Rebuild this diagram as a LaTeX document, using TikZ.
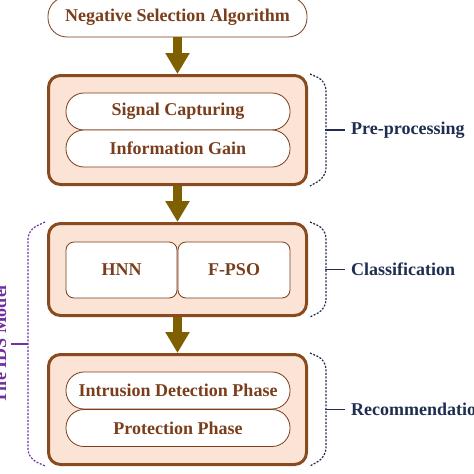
\documentclass[tikz,border=0pt]{standalone}
\usepackage{fontspec}
\setmainfont{Liberation Serif}
\usetikzlibrary{arrows.meta,positioning}

\definecolor{textBrown}{RGB}{122,62,28}
\definecolor{boxBrown}{RGB}{138,74,32}
\definecolor{boxFill}{RGB}{251,228,213}
\definecolor{arrowOlive}{RGB}{127,96,0}
\definecolor{labelNavy}{RGB}{31,45,80}
\definecolor{modelPurple}{RGB}{112,48,160}

\tikzset{
  bigFont/.style={font=\fontsize{18}{20}\selectfont\bfseries},
  outerBox/.style={rectangle,rounded corners=12pt,draw=boxBrown,line width=3pt,fill=boxFill,minimum width=258pt},
  pill/.style={rectangle,rounded corners=18pt,draw=textBrown,line width=0.8pt,fill=white,minimum width=224pt,minimum height=37pt,bigFont,text=textBrown},
  halfBox/.style={rectangle,rounded corners=8pt,draw=textBrown,line width=0.8pt,fill=white,minimum width=112pt,minimum height=56pt,bigFont,text=textBrown},
  bigArrow/.style={draw=arrowOlive,fill=arrowOlive,line width=9pt,-{Triangle[width=23pt,length=21pt]}},
  navyBrace/.style={draw=labelNavy,line width=1.2pt,dashed,dash pattern=on 2pt off 1.5pt,rounded corners=9pt},
  sideLabel/.style={bigFont,text=labelNavy,inner sep=1pt,anchor=west}
}

\begin{document}
\begin{tikzpicture}[x=1pt,y=-1pt]
        \useasboundingbox (0,0) rectangle (474,474);
        \clip (0,0) rectangle (474,474);

        % main column
        \draw (177.5,17) node (negativeSelection) [pill,minimum width=259pt,minimum height=40pt,rounded corners=19pt] {Negative Selection Algorithm};
        \draw (177.5,130) node (preProcessing) [outerBox,minimum height=109pt] {};
        \draw (177.5,269.5) node (classification) [outerBox,minimum height=92pt] {};
        \draw (177.5,409.5) node (recommendation) [outerBox,minimum height=110pt] {};

        \draw (178,111.5) node (signalCapturing) [pill] {Signal Capturing};
        \draw (178,148.5) node (informationGain) [pill] {Information Gain};
        \draw (121.5,270) node (hnn) [halfBox,minimum width=111pt] {HNN};
        \draw (234,270) node (fpso) [halfBox] {F-PSO};
        \draw (178,390.5) node (intrusionDetection) [pill] {Intrusion Detection Phase};
        \draw (178,428) node (protection) [pill] {Protection Phase};

        \draw [bigArrow] (negativeSelection.south) to (preProcessing.north);
        \draw [bigArrow] (preProcessing.south) to (classification.north);
        \draw [bigArrow] (classification.south) to (recommendation.north);

        % right braces
        \draw (preProcessing.east) node (preLabel) [sideLabel,right=42pt of preProcessing.east] {Pre-processing};
        \draw (classification.east) node (classLabel) [sideLabel,right=42pt of classification.east] {Classification};
        \draw (recommendation.east) node (recLabel) [sideLabel,right=42pt of recommendation.east] {Recommendation};

        \draw [navyBrace] ([xshift=2pt]preProcessing.north east) -- ++(16,7) -- ++(0,96) -- ([xshift=2pt]preProcessing.south east);
        \draw [navyBrace] ([xshift=2pt]classification.north east) -- ++(16,7) -- ++(0,80) -- ([xshift=2pt]classification.south east);
        \draw [navyBrace] ([xshift=2pt]recommendation.north east) -- ++(16,7) -- ++(0,97) -- ([xshift=2pt]recommendation.south east);
        \draw [draw=labelNavy,line width=1.2pt] ([xshift=17pt]preProcessing.east) to ([xshift=-5pt]preLabel.west);
        \draw [draw=labelNavy,line width=1.2pt] ([xshift=17pt]classification.east) to ([xshift=-5pt]classLabel.west);
        \draw [draw=labelNavy,line width=1.2pt] ([xshift=17pt]recommendation.east) to ([xshift=-5pt]recLabel.west);

        % left brace
        \draw [navyBrace,draw=modelPurple] ([xshift=-2pt]classification.north west) -- ++(-17,8) -- ++(0,228) -- ([xshift=-2pt]recommendation.south west);
        \coordinate (modelTick) at (28,344);
        \draw (6,344) node (modelLabel) [bigFont,text=modelPurple,rotate=90,anchor=base,inner sep=0pt] {The IDS Model};
        \draw [draw=modelPurple,line width=1.2pt] (modelTick) to ([xshift=5pt]modelLabel.base);
    \end{tikzpicture}
\end{document}
